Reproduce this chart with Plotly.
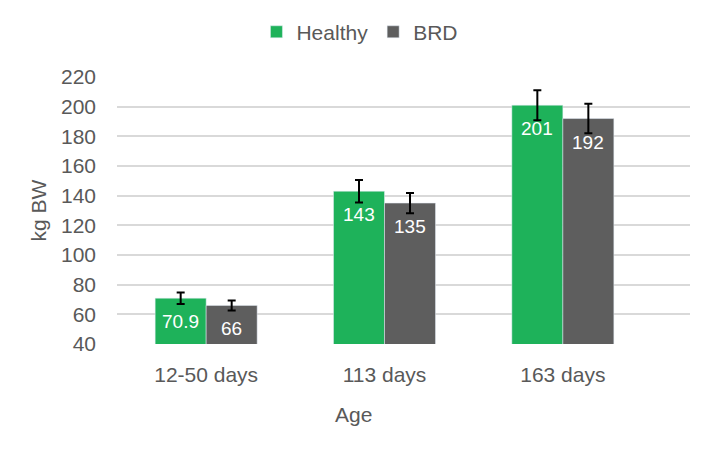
import plotly.graph_objects as go

# Data
ages = ["12-50 days", "113 days", "163 days"]
healthy = [70.9, 143, 201]
brd = [66, 135, 192]
healthy_err = [3.9, 7.6, 10.1]
brd_err = [3.4, 6.8, 10.0]
y_ticks = [40, 60, 80, 100, 120, 140, 160, 180, 200, 220]

FONT = "Liberation Sans, Arial"
TXT = "#595959"
GREEN = "#1EB25A"
GRAY = "#5E5E5E"

fig = go.Figure()

fig.add_trace(go.Bar(x=ages, y=healthy, name="Healthy", marker_color=GREEN,
                     error_y=dict(type="data", array=healthy_err, color="black",
                                  thickness=2, width=4)))
fig.add_trace(go.Bar(x=ages, y=brd, name="BRD", marker_color=GRAY,
                     error_y=dict(type="data", array=brd_err, color="black",
                                  thickness=2, width=4)))

# data labels just inside the bar tops
for vals, shift in [(healthy, -25.5), (brd, 25.5)]:
    for a, v in zip(ages, vals):
        fig.add_annotation(x=a, y=v, text=str(v), showarrow=False,
                           xshift=shift, yshift=-11, yanchor="top",
                           font=dict(family=FONT, size=19, color="white"))

# x axis title
fig.add_annotation(text="Age", xref="paper", yref="paper", x=0.412, y=-0.215,
                   yanchor="top", showarrow=False,
                   font=dict(family=FONT, size=21, color=TXT))

# page body has an 8px margin, so margins are shifted to compensate
fig.update_layout(
    barmode="group", bargap=0.428, bargroupgap=0,
    width=713, height=450, autosize=False,
    margin=dict(l=109, r=31, t=69, b=114, autoexpand=False),
    plot_bgcolor="white", paper_bgcolor="white",
    font=dict(family=FONT, size=21, color=TXT),
    legend=dict(orientation="h", x=0.424, xanchor="center", y=1.168,
                yanchor="middle", font=dict(size=21, color=TXT),
                bgcolor="rgba(0,0,0,0)"),
    showlegend=True,
)
fig.update_xaxes(range=[-0.5, 2.713], showgrid=False, zeroline=False,
                 showline=False, ticks="", ticklabelstandoff=16,
                 automargin=False, tickfont=dict(size=21, color=TXT))
fig.update_yaxes(range=[40, 220], tickvals=y_ticks, showgrid=True,
                 gridcolor="#D9D9D9", gridwidth=1.5, zeroline=False,
                 showline=False, ticks="", ticklabelstandoff=20,
                 automargin=False, tickfont=dict(size=21, color=TXT),
                 title=dict(text="kg BW", standoff=8,
                            font=dict(size=21, color=TXT)))

fig.write_html("out.html")
